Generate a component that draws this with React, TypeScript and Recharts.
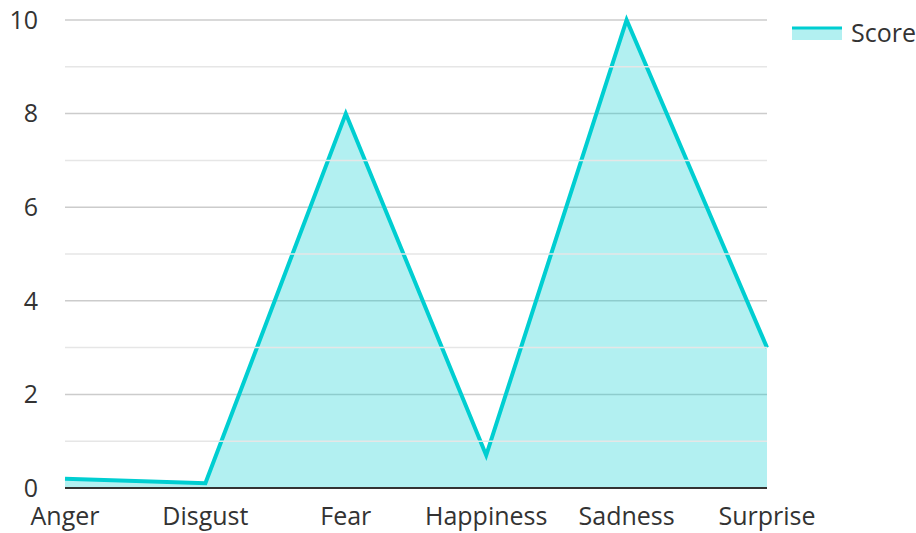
import { AreaChart, Area, XAxis, YAxis, CartesianGrid, ReferenceLine } from 'recharts';

const emotions = ['Anger', 'Disgust', 'Fear', 'Happiness', 'Sadness', 'Surprise'];
const scores = [0.2, 0.1, 8, 0.7, 10, 3];
const majorTicks = [0, 2, 4, 6, 8, 10];
const minorTicks = [1, 3, 5, 7, 9];

const data = emotions.map((emotion, i) => ({ emotion, score: scores[i] }));

const LINE = '#00ced1';
const FONT = '"Open Sans", sans-serif';

// legend sits outside the chart so it doesn't eat into the plot area
function ScoreLegend() {
  return (
    <div
      style={{
        position: 'absolute',
        left: 792,
        top: 15,
        display: 'flex',
        alignItems: 'center',
        fontFamily: FONT,
        fontSize: 25,
        color: '#333',
      }}
    >
      <svg width={50} height={16} style={{ marginRight: 9 }}>
        <rect x={0} y={3} width={50} height={13} fill={LINE} fillOpacity={0.3} />
        <line x1={0} y1={4} x2={50} y2={4} stroke={LINE} strokeWidth={3} />
      </svg>
      <span>Score</span>
    </div>
  );
}

export default function App() {
  return (
    <div style={{ position: 'absolute', left: 0, top: 0, width: 916, height: 533 }}>
      <AreaChart width={916} height={533} data={data} margin={{ top: 20, right: 149, bottom: 0, left: 0 }}>
        <CartesianGrid vertical={false} stroke="#cccccc" strokeWidth={1.5} />
        {minorTicks.map((t) => (
          <ReferenceLine key={t} y={t} stroke="#e6e6e6" strokeWidth={1.5} />
        ))}
        <XAxis
          dataKey="emotion"
          interval={0}
          tickLine={false}
          tickMargin={13}
          height={45}
          stroke="#333"
          strokeWidth={2}
          tick={{ fontFamily: FONT, fontSize: 25, fill: '#333' }}
        />
        <YAxis
          domain={[0, 10]}
          ticks={majorTicks}
          width={65}
          axisLine={false}
          tickLine={false}
          tickMargin={21}
          tick={{ fontFamily: FONT, fontSize: 25, fill: '#333' }}
        />
        <Area
          type="linear"
          dataKey="score"
          name="Score"
          stroke={LINE}
          strokeWidth={4}
          fill={LINE}
          fillOpacity={0.3}
          isAnimationActive={false}
        />
      </AreaChart>
      <ScoreLegend />
    </div>
  );
}
